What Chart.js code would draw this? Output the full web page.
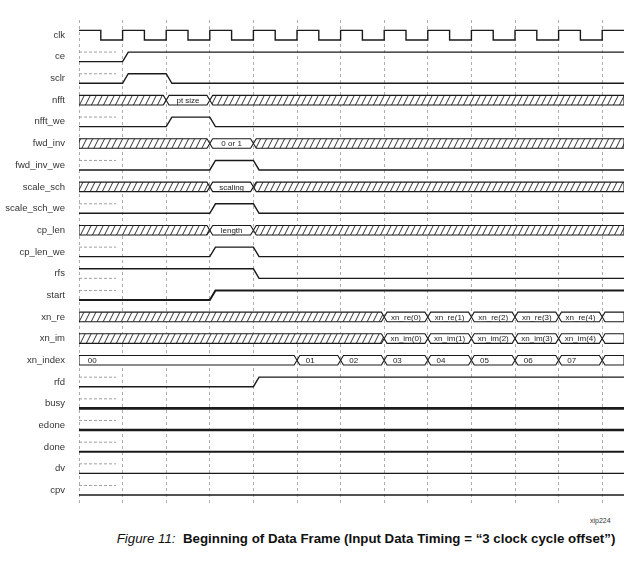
<!DOCTYPE html>
<html>
<head>
<meta charset="utf-8">
<script src="https://cdn.jsdelivr.net/npm/chart.js@4"></script>
<style>
  body { margin: 0; background: #fff; font-family: 'Liberation Sans', Arial, sans-serif; }
  #wrap { position: relative; width: 640px; height: 515px; }
  #cap { position: absolute; top: 531px; left: 0; width: 640px; text-align: center; font-size: 13.3px; color: #111; padding-left: 92px; box-sizing: border-box; }
  #cap i { font-weight: normal; }
  #cap b { font-weight: bold; }
  #tag { position: absolute; top: 517px; left: 590px; font-size: 7px; color: #333; }
</style>
</head>
<body>
<div id="wrap"><canvas id="tchart"></canvas></div>
<div id="tag">xip224</div>
<div id="cap"><i>Figure 11:</i>&nbsp; <b>Beginning of Data Frame (Input Data Timing = “3 clock cycle offset”)</b></div>
<script>
const signals = ['clk', 'ce', 'sclr', 'nfft', 'nfft_we', 'fwd_inv', 'fwd_inv_we', 'scale_sch', 'scale_sch_we',
  'cp_len', 'cp_len_we', 'rfs', 'start', 'xn_re', 'xn_im', 'xn_index', 'rfd', 'busy', 'edone', 'done', 'dv', 'cpv'];
const endTime = 12.5;
const clkEdges = [0.5, 1, 1.5, 2, 2.5, 3, 3.5, 4, 4.5, 5, 5.5, 6, 6.5, 7, 7.5, 8, 8.5, 9, 9.5, 10, 10.5, 11, 11.5, 12];

// single-bit signals: start level and edge times (in clock cycles)
const bitInit  = { ce: 0, sclr: 0, nfft_we: 0, fwd_inv_we: 0, scale_sch_we: 0, cp_len_we: 0, rfs: 1, start: 0, rfd: 0, busy: 0, edone: 0, done: 0, dv: 0, cpv: 0 };
const bitEdges = { ce: [1], sclr: [1, 2], nfft_we: [2, 3], fwd_inv_we: [3, 4], scale_sch_we: [3, 4], cp_len_we: [3, 4],
  rfs: [4], start: [3], rfd: [4], busy: [], edone: [], done: [], dv: [], cpv: [] };
const thick = { busy: 2.6, edone: 2.6, done: 2, start: 2 };

// buses: segment bounds and their labels ('#' = hatched / don't care)
const busBounds = {
  nfft: [0, 2, 3, 12.5], fwd_inv: [0, 3, 4, 12.5], scale_sch: [0, 3, 4, 12.5], cp_len: [0, 3, 4, 12.5],
  xn_re: [0, 7, 8, 9, 10, 11, 12, 12.5], xn_im: [0, 7, 8, 9, 10, 11, 12, 12.5],
  xn_index: [0, 5, 6, 7, 8, 9, 10, 11, 12, 12.5]
};
const busLabels = {
  nfft: ['#', 'pt size', '#'], fwd_inv: ['#', '0 or 1', '#'], scale_sch: ['#', 'scaling', '#'], cp_len: ['#', 'length', '#'],
  xn_re: ['#', 'xn_re(0)', 'xn_re(1)', 'xn_re(2)', 'xn_re(3)', 'xn_re(4)', ''],
  xn_im: ['#', 'xn_im(0)', 'xn_im(1)', 'xn_im(2)', 'xn_im(3)', 'xn_im(4)', ''],
  xn_index: ['00', '01', '02', '03', '04', '05', '06', '07', '']
};

const AMP = 0.22, SLANT = 0.13;
const ink = '#1a1a1a';

function hatch() {
  const c = document.createElement('canvas');
  c.width = 6; c.height = 12;
  const g = c.getContext('2d');
  g.fillStyle = '#fff'; g.fillRect(0, 0, 6, 12);
  g.strokeStyle = '#333'; g.lineWidth = 1;
  g.beginPath();
  g.moveTo(0, 12); g.lineTo(6, 0);
  g.moveTo(-1, 2); g.lineTo(1, -2);
  g.moveTo(5, 14); g.lineTo(7, 10);
  g.stroke();
  return g.createPattern(c, 'repeat');
}
const hatchFill = hatch();

const datasets = [];
const textMarks = [];
signals.forEach((name, i) => {
  const yc = -i, hi = yc + AMP, lo = yc - AMP;
  if (name === 'clk') {
    const pts = [{ x: 0, y: hi }];
    let lvl = 1;
    clkEdges.forEach(t => { pts.push({ x: t, y: lvl ? hi : lo }); lvl = 1 - lvl; pts.push({ x: t, y: lvl ? hi : lo }); });
    pts.push({ x: endTime, y: lvl ? hi : lo });
    datasets.push({ data: pts, borderColor: ink, borderWidth: 1.4 });
  } else if (name in bitInit) {
    let lvl = bitInit[name];
    const pts = [{ x: 0, y: lvl ? hi : lo }];
    bitEdges[name].forEach(t => {
      pts.push({ x: t, y: lvl ? hi : lo }); lvl = 1 - lvl; pts.push({ x: t + SLANT, y: lvl ? hi : lo });
    });
    pts.push({ x: endTime, y: lvl ? hi : lo });
    datasets.push({ data: pts, borderColor: ink, borderWidth: thick[name] || 1.4 });
    const other = bitInit[name] ? lo : hi;
    datasets.push({ data: [{ x: 0, y: other }, { x: 0.85, y: other }], borderColor: '#888', borderWidth: 0.8, borderDash: [3, 2] });
  } else {
    const b = busBounds[name];
    busLabels[name].forEach((lab, k) => {
      const t0 = b[k], t1 = b[k + 1];
      const s0 = t0 === 0 ? 0 : SLANT / 2, s1 = t1 === endTime ? 0 : SLANT / 2;
      const pts = [{ x: t0, y: s0 ? yc : hi }, { x: t0 + s0, y: hi }, { x: t1 - s1, y: hi }, { x: t1, y: s1 ? yc : hi },
        { x: t1, y: s1 ? yc : lo }, { x: t1 - s1, y: lo }, { x: t0 + s0, y: lo }, { x: t0, y: s0 ? yc : lo }, { x: t0, y: s0 ? yc : hi }];
      datasets.push({ data: pts, borderColor: ink, borderWidth: 1.1, fill: 'shape',
        backgroundColor: lab === '#' ? hatchFill : '#fff' });
      if (lab !== '#' && lab !== '') textMarks.push({ x: name === 'xn_index' ? t0 + 0.2 : (t0 + t1) / 2, y: yc, text: lab, left: name === 'xn_index' });
    });
  }
});

const busText = {
  id: 'busText',
  afterDatasetsDraw(chart) {
    const g = chart.ctx, xs = chart.scales.x, ys = chart.scales.y;
    g.save();
    g.font = '8px "Liberation Sans", Arial, sans-serif';
    g.fillStyle = '#222';
    g.textBaseline = 'middle';
    textMarks.forEach(m => {
      g.textAlign = m.left ? 'left' : 'center';
      g.fillText(m.text, xs.getPixelForValue(m.x), ys.getPixelForValue(m.y) + 0.5);
    });
    g.restore();
  }
};

new Chart(document.getElementById('tchart'), {
  type: 'line',
  data: { datasets: datasets.map(d => Object.assign({ pointRadius: 0, tension: 0, fill: false }, d)) },
  plugins: [busText],
  options: {
    responsive: true,
    maintainAspectRatio: false,
    animation: false,
    layout: { padding: { top: 20, bottom: 5, right: 16, left: 0 } },
    plugins: { legend: { display: false }, tooltip: { enabled: false } },
    scales: {
      x: {
        type: 'linear', min: 0, max: endTime,
        ticks: { display: false, stepSize: 1, includeBounds: false },
        border: { display: false, dash: [3, 3] },
        grid: { color: '#999', lineWidth: 0.8, drawTicks: false }
      },
      y: {
        type: 'linear', min: -21.6, max: 0.7,
        afterFit(s) { s.width = 79; },
        afterBuildTicks(s) { s.ticks = signals.map((n, i) => ({ value: -i })); },
        ticks: {
          padding: 6, color: '#333', font: { size: 9.5, family: '"Liberation Sans", Arial, sans-serif' },
          callback: v => signals[-v]
        },
        border: { display: false },
        grid: { display: false }
      }
    }
  }
});
</script>
</body>
</html>
